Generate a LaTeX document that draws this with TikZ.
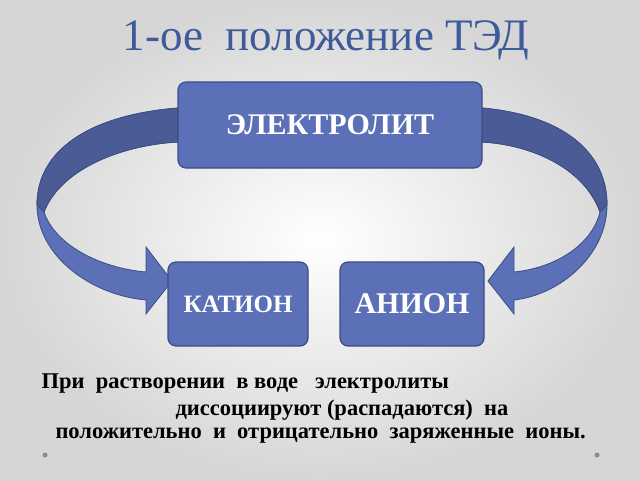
\documentclass[tikz,border=0pt]{standalone}
\usepackage{fontspec}
\setmainfont{Liberation Serif}
\begin{document}
\begin{tikzpicture}[x=1pt,y=-1pt,
  box/.style={draw=boxline,line width=1.2pt,fill=boxfill,rounded corners=8pt,text=white,font=\bfseries\fontsize{30}{32}\selectfont},
  band/.style={draw=boxline,line width=0.8pt,fill=boxfill},
  backband/.style={draw=boxline,line width=0.8pt,fill=boxdark},
  txt/.style={font=\bfseries\fontsize{22.5}{24}\selectfont,anchor=west}]
\definecolor{boxfill}{HTML}{5B70B6}
\definecolor{boxline}{HTML}{3C4C85}
\definecolor{boxdark}{HTML}{4A5B96}
\definecolor{titlec}{HTML}{3F5A9A}
\useasboundingbox (0,0) rectangle (640,480);
\shade[inner color=white,outer color=black!16] (0,0) rectangle (640,480);
% left arrow
\draw[band] (178,108) .. controls (90,115) and (37,150) .. (37,205)
  .. controls (37,255) and (90,295) .. (146,300) -- (146,314) -- (172,281) -- (146,247) -- (146,272)
  .. controls (100,268) and (55,245) .. (44,212) .. controls (60,170) and (120,145) .. (178,142) -- cycle;
\draw[backband] (178,108) .. controls (90,115) and (37,150) .. (37,205)
  -- (44,212) .. controls (60,170) and (120,145) .. (178,142) -- cycle;
% right arrow
\draw[band] (482,108) .. controls (560,115) and (607,150) .. (607,205)
  .. controls (607,255) and (560,295) .. (514,300) -- (514,314) -- (488,281) -- (514,247) -- (514,272)
  .. controls (555,268) and (592,245) .. (600,212) .. controls (585,170) and (535,145) .. (482,142) -- cycle;
\draw[backband] (482,108) .. controls (560,115) and (607,150) .. (607,205)
  -- (600,212) .. controls (585,170) and (535,145) .. (482,142) -- cycle;
\node[box,minimum width=304pt,minimum height=86pt] (el) at (330,125) {ЭЛЕКТРОЛИТ};
\node[box,minimum width=140pt,minimum height=84pt,font=\bfseries\fontsize{25}{27}\selectfont] (kat) at (238,304) {КАТИОН};
\node[box,minimum width=144pt,minimum height=84pt] (an) at (412,304) {АНИОН};
\node[text=titlec,font=\fontsize{45}{48}\selectfont] (title) at (326,40) {1-ое\ \ положение ТЭД};
\node[txt] (t1) at (38,384) {При\ \ растворении\ \ в воде\ \ \ электролиты};
\node[txt] (t2) at (172,410) {диссоциируют (распадаются)\ \ на};
\node[txt] (t3) at (52,436) {положительно\ \ и\ \ отрицательно\ \ заряженные\ \ ионы.};
\fill[black!45] (45,455) circle (2.5) (597,455) circle (2.5);
\end{tikzpicture}
\end{document}
